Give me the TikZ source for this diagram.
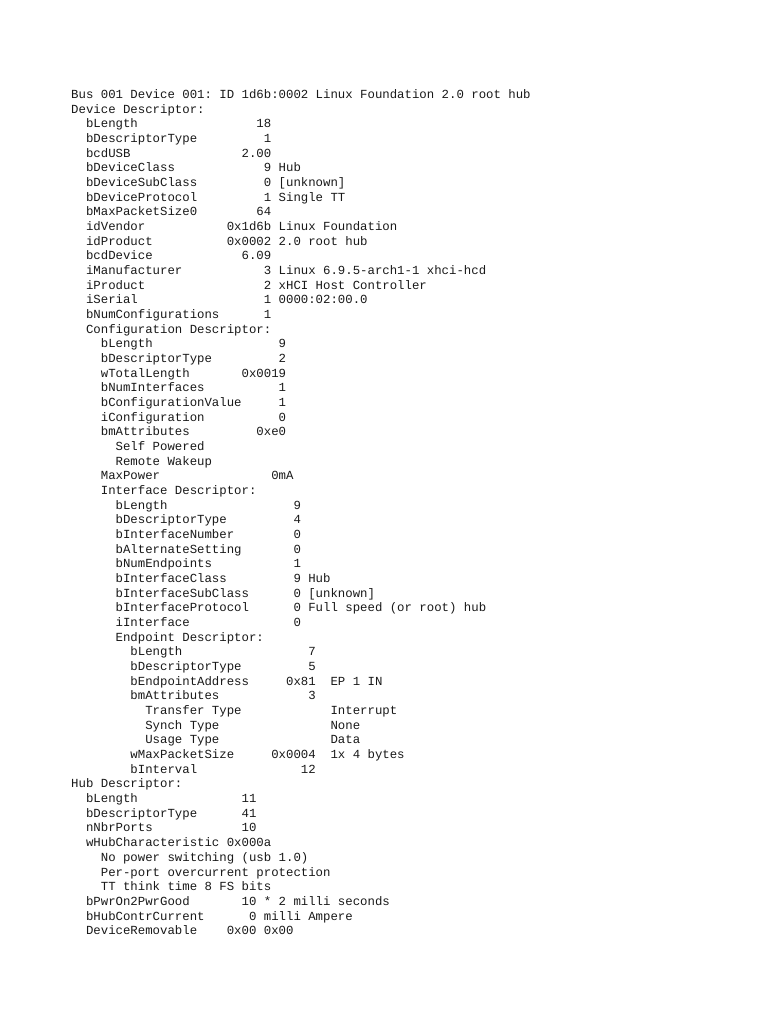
\documentclass[tikz,border=0pt]{standalone}
\usepackage{fontspec}
\setmonofont{Liberation Mono}
\usetikzlibrary{positioning}

% one piece of text on line #1, starting at column #2
\newcommand{\row}[3]{\node[txt] (r#1c#2) at ({71+#2*7.41},{1024-98.5-(#1-1)*14.67}) {#3};}

\tikzset{txt/.style={anchor=base west, inner sep=0pt, font=\ttfamily\fontsize{12.35}{14.67}\selectfont, text=black!90}}

\begin{document}
\begin{tikzpicture}[x=1pt,y=1pt]
\useasboundingbox[fill=white] (0,0) rectangle (768,1024);

\row{1}{0}{Bus 001 Device 001: ID 1d6b:0002 Linux Foundation 2.0 root hub}
\row{2}{0}{Device Descriptor:}
\row{3}{2}{bLength}            \row{3}{25}{18}
\row{4}{2}{bDescriptorType}    \row{4}{26}{1}
\row{5}{2}{bcdUSB}             \row{5}{23}{2.00}
\row{6}{2}{bDeviceClass}       \row{6}{26}{9 Hub}
\row{7}{2}{bDeviceSubClass}    \row{7}{26}{0 [unknown]}
\row{8}{2}{bDeviceProtocol}    \row{8}{26}{1 Single TT}
\row{9}{2}{bMaxPacketSize0}    \row{9}{25}{64}
\row{10}{2}{idVendor}          \row{10}{21}{0x1d6b Linux Foundation}
\row{11}{2}{idProduct}         \row{11}{21}{0x0002 2.0 root hub}
\row{12}{2}{bcdDevice}         \row{12}{23}{6.09}
\row{13}{2}{iManufacturer}     \row{13}{26}{3 Linux 6.9.5-arch1-1 xhci-hcd}
\row{14}{2}{iProduct}          \row{14}{26}{2 xHCI Host Controller}
\row{15}{2}{iSerial}           \row{15}{26}{1 0000:02:00.0}
\row{16}{2}{bNumConfigurations} \row{16}{26}{1}
\row{17}{2}{Configuration Descriptor:}
\row{18}{4}{bLength}           \row{18}{28}{9}
\row{19}{4}{bDescriptorType}   \row{19}{28}{2}
\row{20}{4}{wTotalLength}      \row{20}{23}{0x0019}
\row{21}{4}{bNumInterfaces}    \row{21}{28}{1}
\row{22}{4}{bConfigurationValue} \row{22}{28}{1}
\row{23}{4}{iConfiguration}    \row{23}{28}{0}
\row{24}{4}{bmAttributes}      \row{24}{25}{0xe0}
\row{25}{6}{Self Powered}
\row{26}{6}{Remote Wakeup}
\row{27}{4}{MaxPower}          \row{27}{27}{0mA}
\row{28}{4}{Interface Descriptor:}
\row{29}{6}{bLength}           \row{29}{30}{9}
\row{30}{6}{bDescriptorType}   \row{30}{30}{4}
\row{31}{6}{bInterfaceNumber}  \row{31}{30}{0}
\row{32}{6}{bAlternateSetting} \row{32}{30}{0}
\row{33}{6}{bNumEndpoints}     \row{33}{30}{1}
\row{34}{6}{bInterfaceClass}   \row{34}{30}{9 Hub}
\row{35}{6}{bInterfaceSubClass} \row{35}{30}{0 [unknown]}
\row{36}{6}{bInterfaceProtocol} \row{36}{30}{0 Full speed (or root) hub}
\row{37}{6}{iInterface}        \row{37}{30}{0}
\row{38}{6}{Endpoint Descriptor:}
\row{39}{8}{bLength}           \row{39}{32}{7}
\row{40}{8}{bDescriptorType}   \row{40}{32}{5}
\row{41}{8}{bEndpointAddress}  \row{41}{29}{0x81} \row{41}{35}{EP 1 IN}
\row{42}{8}{bmAttributes}      \row{42}{32}{3}
\row{43}{10}{Transfer Type}    \row{43}{35}{Interrupt}
\row{44}{10}{Synch Type}       \row{44}{35}{None}
\row{45}{10}{Usage Type}       \row{45}{35}{Data}
\row{46}{8}{wMaxPacketSize}    \row{46}{27}{0x0004} \row{46}{35}{1x 4 bytes}
\row{47}{8}{bInterval}         \row{47}{31}{12}
\row{48}{0}{Hub Descriptor:}
\row{49}{2}{bLength}           \row{49}{23}{11}
\row{50}{2}{bDescriptorType}   \row{50}{23}{41}
\row{51}{2}{nNbrPorts}         \row{51}{23}{10}
\row{52}{2}{wHubCharacteristic 0x000a}
\row{53}{4}{No power switching (usb 1.0)}
\row{54}{4}{Per-port overcurrent protection}
\row{55}{4}{TT think time 8 FS bits}
\row{56}{2}{bPwrOn2PwrGood}    \row{56}{23}{10 * 2 milli seconds}
\row{57}{2}{bHubContrCurrent}  \row{57}{24}{0 milli Ampere}
\row{58}{2}{DeviceRemovable}   \row{58}{21}{0x00 0x00}

\end{tikzpicture}
\end{document}
